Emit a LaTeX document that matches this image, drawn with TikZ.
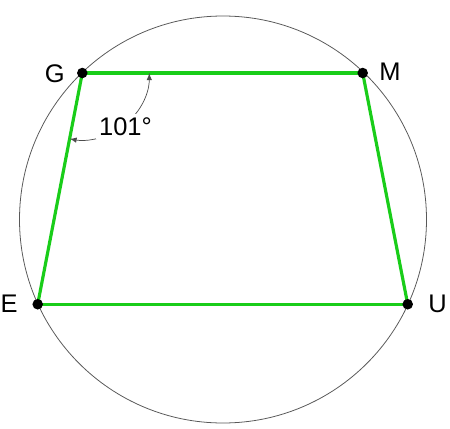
\documentclass[tikz,border=0pt]{standalone}
\usepackage{fontspec}
\setmainfont{Liberation Sans}
\usetikzlibrary{calc}
\definecolor{sidegreen}{RGB}{25,205,25}
\tikzset{
  side/.style={sidegreen, line width=1.8pt},
  vertex/.style={circle, fill=black, inner sep=0pt, minimum size=6pt},
  vlabel/.style={font=\fontsize{14.5}{16}\selectfont},
}
\begin{document}
\begin{tikzpicture}
            \useasboundingbox (0,0) rectangle (9,8.56);
            \draw[gray!70!black, line width=0.45pt] (4.46,4.17) circle (4.07);

            \coordinate (G) at (1.646,7.10);
            \coordinate (M) at (7.254,7.10);
            \coordinate (E) at (0.754,2.475);
            \coordinate (U) at (8.154,2.475);

            \draw[side] (G) -- (M);
            \draw[side] (M) -- (U);
            \draw[side] (U) -- (E);
            \draw[side] (E) -- (G);

            \draw[latex-latex, gray!60!black, line width=0.4pt] ($(G)+(0:1.34)$) arc (0:-100.9:1.34);
            \node[fill=white, inner sep=2pt, font=\fontsize{14.5}{16}\selectfont] (angle) at (2.51,6.03) {101°};

            \node[vertex] (g) at (G) {};
            \node[vertex] (m) at (M) {};
            \node[vertex] (e) at (E) {};
            \node[vertex] (u) at (U) {};

            \node[vlabel] (gl) at (1.094,7.08) {G};
            \node[vlabel] (ml) at (7.80,7.12) {M};
            \node[vlabel] (el) at (0.18,2.48) {E};
            \node[vlabel] (ul) at (8.75,2.48) {U};
        \end{tikzpicture}
\end{document}
